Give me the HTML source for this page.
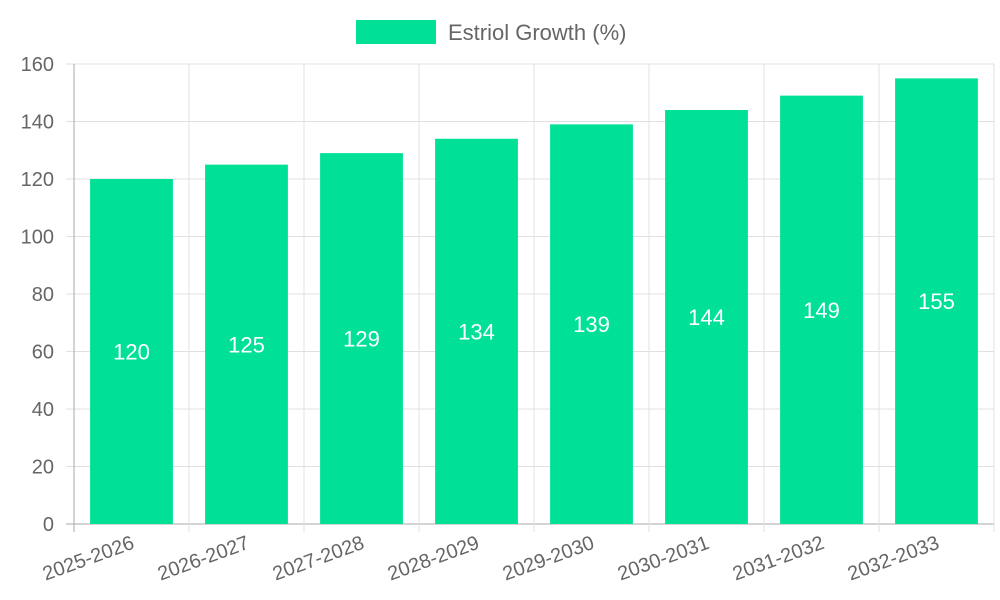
<!DOCTYPE html>
<html><head><meta charset="utf-8"><style>
body{margin:0;background:#fff}
svg{display:block;font-family:"Liberation Sans",sans-serif}
</style></head><body>
<svg id="c" width="1000" height="600"></svg>
<script>
const categories=["2025-2026","2026-2027","2027-2028","2028-2029","2029-2030","2030-2031","2031-2032","2032-2033"];
const values=[120,125,129,134,139,144,149,155];
const yTicks=[0,20,40,60,80,100,120,140,160];
const seriesName="Estriol Growth (%)";
const svg=document.getElementById('c');
const NS="http://www.w3.org/2000/svg";
const L=74,R=994,T=64,B=524,yMax=160;
const bw=(R-L)/categories.length;
const y=v=>B-(B-T)*v/yMax;
const x=i=>L+bw*i;
function mk(t,a,p){const e=document.createElementNS(NS,t);for(const k in a)e.setAttribute(k,a[k]);(p||svg).appendChild(e);return e;}
// y grid + ticks
yTicks.forEach(v=>{
  const g=mk('line',{x1:66,x2:R,y1:y(v),y2:y(v),stroke:v===0?'#aaa':'#e0e0e0','stroke-width':1});
  
  
  const t=mk('text',{x:54,y:y(v)+7,'text-anchor':'end','font-size':20,fill:'#666'});
  t.textContent=v;
  
  
});
// x grid
for(let i=0;i<=categories.length;i++){
  const g=mk('line',{x1:x(i),x2:x(i),y1:T,y2:532,stroke:i===0?'#aaa':'#e0e0e0','stroke-width':1});
  
  
}
categories.forEach((c,i)=>{
  const cx=x(i)+bw/2, w=bw*0.72;
  const r=mk('rect',{x:cx-w/2,y:y(values[i]),width:w,height:B-y(values[i]),fill:'#00e096'});
  
  
  const vt=mk('text',{x:cx,y:(y(values[i])+B)/2+8,'text-anchor':'middle','font-size':22,fill:'#fff'});
  vt.textContent=values[i];
  
  
  const xt=mk('text',{x:cx+4,y:548,'text-anchor':'end','font-size':20,fill:'#666',transform:`rotate(-20 ${cx+4} 548)`});
  xt.textContent=c;
  
  
});
const lg=mk('rect',{x:356,y:20,width:80,height:24,fill:'#00e096'});


const lt=mk('text',{x:448,y:40,'font-size':22,fill:'#666'});
lt.textContent=seriesName;


</script>
</body></html>
